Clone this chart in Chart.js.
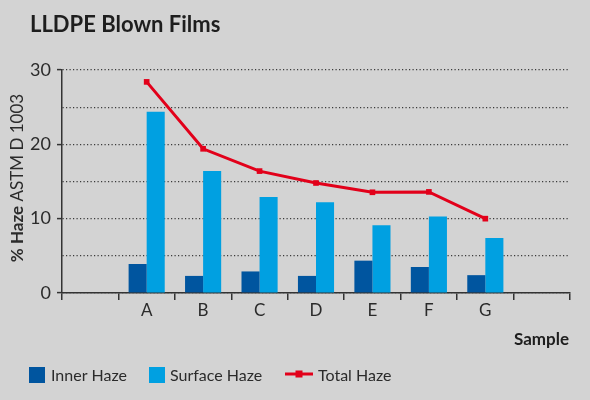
<!DOCTYPE html>
<html>
<head>
<meta charset="utf-8">
<script src="https://cdn.jsdelivr.net/npm/chart.js@4/dist/chart.umd.min.js"></script>
<style>
  html, body { margin: 0; padding: 0; background: #d3d3d3; }
  #wrap { width: 590px; height: 400px; position: relative; }
</style>
</head>
<body>
<div id="wrap"><canvas id="c" width="590" height="400"></canvas></div>
<script>
const categories = ['', 'A', 'B', 'C', 'D', 'E', 'F', 'G', ''];
const innerHaze   = [null, 3.9, 2.3, 2.9, 2.3, 4.35, 3.5, 2.4, null];
const surfaceHaze = [null, 24.4, 16.4, 12.9, 12.2, 9.1, 10.3, 7.4, null];
const totalHaze   = [null, 28.4, 19.4, 16.4, 14.8, 13.55, 13.6, 10.0, null];
const yTickValues = [0, 10, 20, 30];

const chartTitle = 'LLDPE Blown Films';
const yTitleBold = '% Haze';
const yTitleRest = ' ASTM D 1003';
const xTitle = 'Sample';
const seriesNames = ['Inner Haze', 'Surface Haze', 'Total Haze'];

const COL_INNER = '#00559f';
const COL_SURF = '#00a0e1';
const COL_TOTAL = '#e2001a';
const TEXT = '#2b2b2b';
const FONT = 'Lato';

const decor = {
  id: 'decor',
  afterDraw(chart) {
    const ctx = chart.ctx;
    ctx.save();
    // Title
    ctx.fillStyle = '#1e1e1e';
    ctx.font = 'bold 22px ' + FONT;
    ctx.textAlign = 'left';
    ctx.textBaseline = 'alphabetic';
    ctx.fillText(chartTitle, 30, 32);

    // Y axis title (mixed bold)
    ctx.save();
    ctx.translate(23, 178);
    ctx.rotate(-Math.PI / 2);
    ctx.font = 'bold 17px ' + FONT;
    const wb = ctx.measureText(yTitleBold).width;
    ctx.font = '17px ' + FONT;
    const wr = ctx.measureText(yTitleRest).width;
    let x0 = -(wb + wr) / 2;
    ctx.fillStyle = TEXT;
    ctx.font = 'bold 17px ' + FONT;
    ctx.fillText(yTitleBold, x0, 0);
    ctx.font = '17px ' + FONT;
    ctx.fillText(yTitleRest, x0 + wb, 0);
    ctx.restore();

    // X title
    ctx.font = 'bold 17px ' + FONT;
    ctx.textAlign = 'right';
    ctx.fillStyle = '#1e1e1e';
    ctx.fillText(xTitle, 569, 345);

    // Legend
    ctx.textAlign = 'left';
    ctx.font = '16px ' + FONT;
    ctx.fillStyle = COL_INNER;
    ctx.fillRect(29, 367, 16, 16);
    ctx.fillStyle = COL_SURF;
    ctx.fillRect(149, 367, 16, 16);
    ctx.strokeStyle = COL_TOTAL;
    ctx.lineWidth = 3;
    ctx.beginPath();
    ctx.moveTo(285, 374);
    ctx.lineTo(313, 374);
    ctx.stroke();
    ctx.fillStyle = COL_TOTAL;
    ctx.fillRect(295.5, 370.5, 7, 7);
    ctx.fillStyle = TEXT;
    ctx.fillText(seriesNames[0], 51, 381);
    ctx.fillText(seriesNames[1], 170, 381);
    ctx.fillText(seriesNames[2], 318, 381);
    ctx.restore();
  }
};

new Chart(document.getElementById('c'), {
  type: 'bar',
  data: {
    labels: categories,
    datasets: [
      { type: 'bar', label: seriesNames[0], data: innerHaze, backgroundColor: COL_INNER,
        categoryPercentage: 0.64, barPercentage: 1.0, order: 1 },
      { type: 'bar', label: seriesNames[1], data: surfaceHaze, backgroundColor: COL_SURF,
        categoryPercentage: 0.64, barPercentage: 1.0, order: 1 },
      { type: 'line', label: seriesNames[2], data: totalHaze, borderColor: COL_TOTAL,
        backgroundColor: COL_TOTAL, borderWidth: 3, pointStyle: 'rect', pointRadius: 4,
        pointBorderWidth: 0, tension: 0, spanGaps: false, order: 0 }
    ]
  },
  options: {
    responsive: false,
    animation: false,
    devicePixelRatio: 1,
    layout: { padding: { top: 70, left: 0, right: 20, bottom: 0 } },
    plugins: { legend: { display: false }, title: { display: false }, tooltip: { enabled: false } },
    scales: {
      x: {
        offset: true,
        grid: { display: true, drawOnChartArea: false, drawTicks: true, tickLength: 7,
                color: '#333', tickColor: '#333', lineWidth: 1.5, offset: true },
        border: { display: true, color: '#333', width: 1.5 },
        ticks: { color: TEXT, font: { family: FONT, size: 17 }, padding: 0, autoSkip: false, maxRotation: 0 },
        afterFit(scale) { scale.height = 107; }
      },
      y: {
        min: 0, max: 30,
        ticks: {
          stepSize: 5,
          color: TEXT,
          font: { family: FONT, size: 18 },
          padding: 6,
          callback: (v) => yTickValues.includes(v) ? String(v) : ''
        },
        grid: {
          color: '#3a3a3a',
          lineWidth: 1.2,
          tickLength: 5,
          tickWidth: 1.5,
          tickBorderDash: [],
          tickColor: (ctx) => (ctx.tick && yTickValues.includes(ctx.tick.value)) ? '#333' : 'rgba(0,0,0,0)'
        },
        border: { display: true, color: '#333', width: 1.5, dash: [1.2, 2.3] },
        afterFit(scale) { scale.width = 62; }
      }
    }
  },
  plugins: [decor]
});
</script>
</body>
</html>
